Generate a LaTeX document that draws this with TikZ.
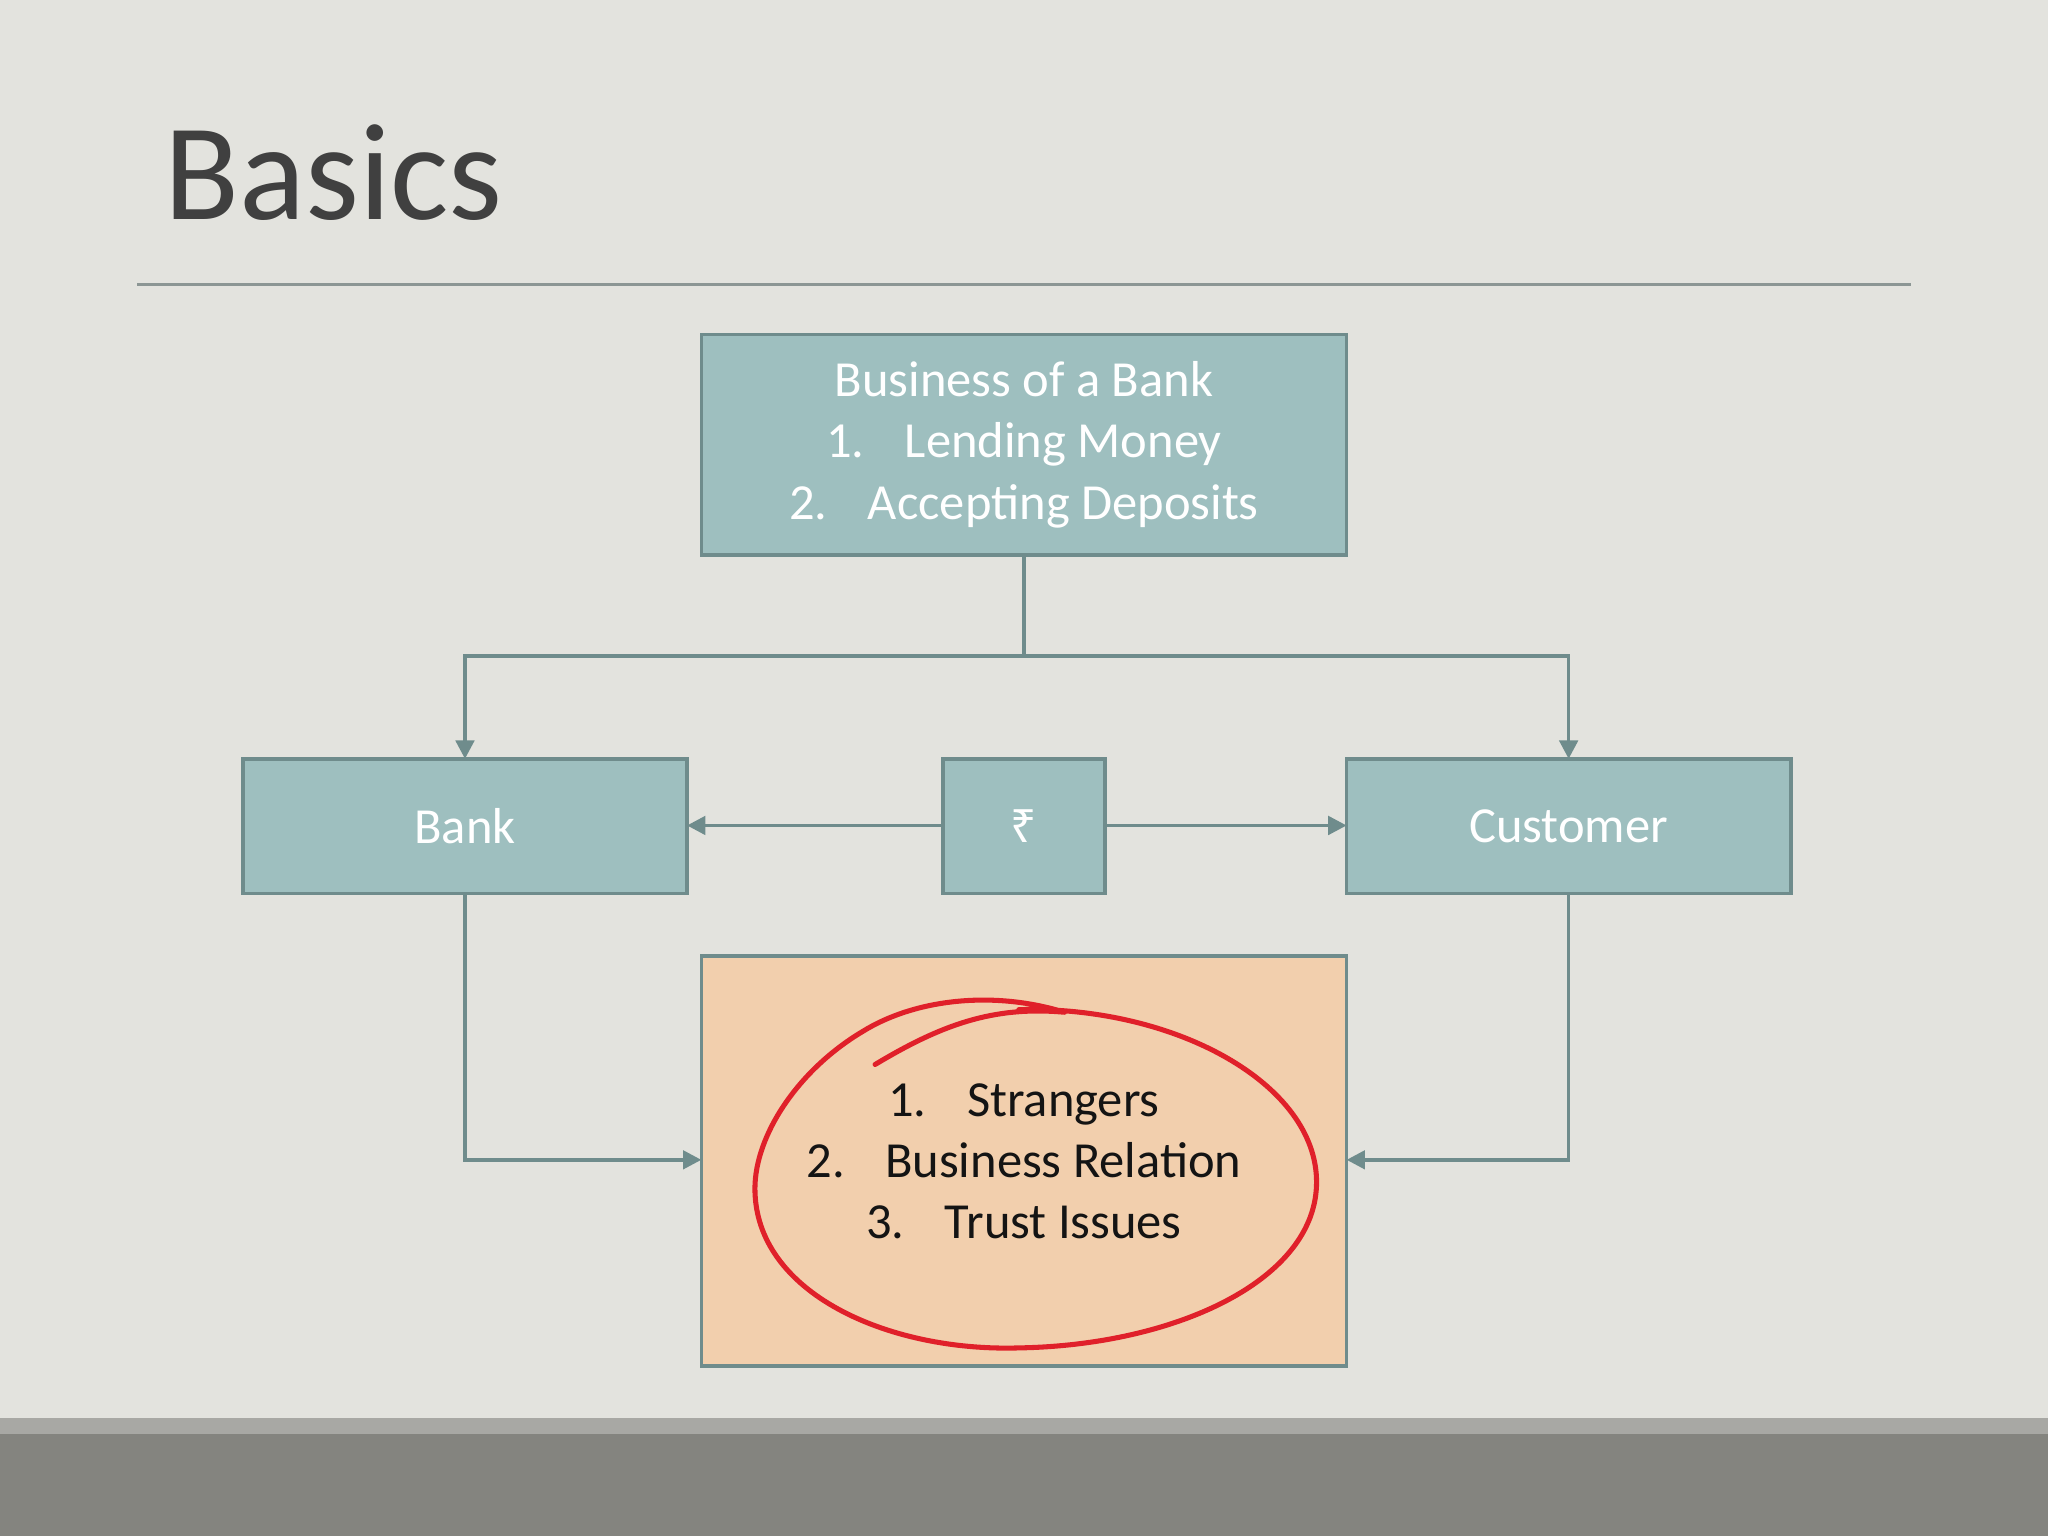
\documentclass[tikz,border=0pt]{standalone}
\usepackage{fontspec}
\setmainfont{Carlito}
\newfontfamily\rupeefont{Noto Sans}
\usetikzlibrary{arrows.meta}
\definecolor{bg}{HTML}{E3E3DE}
\definecolor{boxf}{HTML}{9EBFBF}
\definecolor{boxd}{HTML}{6F8C8C}
\definecolor{peach}{HTML}{F2CFAD}
\definecolor{redl}{HTML}{E0202A}
\definecolor{band1}{HTML}{A8A8A4}
\definecolor{band2}{HTML}{84847F}
\definecolor{rulec}{HTML}{8C9694}
\definecolor{titlec}{HTML}{404040}
\definecolor{listc}{HTML}{141414}
\begin{document}
\begin{tikzpicture}[x=0.01cm,y=-0.01cm,
  bx/.style={draw=boxd,line width=0.8pt,fill=boxf},
  wt/.style={inner sep=0,text=white,font=\fontsize{11}{13.3}\selectfont,align=center},
  conn/.style={draw=boxd,line width=0.8pt,-{Triangle[length=4pt,width=4pt]}},
  plain/.style={draw=boxd,line width=0.8pt}]
\fill[bg] (0,0) rectangle (1568,1176);
\useasboundingbox (0,0) rectangle (1568,1176);
\fill[band1] (0,1086) rectangle (1568,1098);
\fill[band2] (0,1098) rectangle (1568,1176);
\node[anchor=base west,inner sep=0,text=titlec,font=\fontsize{30}{36}\selectfont] (title) at (125,168) {Basics};
\draw[rulec,line width=0.6pt] (105,218) coordinate (l1) -- (1463,218) coordinate (l2);
\path[bx] (537,256) rectangle (1031,425);
\node[wt] (top) at (784,340.5) {Business of a Bank\\1.\hspace{0.8em}Lending Money\\2.\hspace{0.8em}Accepting Deposits};
\path[bx] (186,581) rectangle (526,684);
\node[wt] (bank) at (356,632.5) {Bank};
\path[bx] (722,581) rectangle (846,684);
\node[inner sep=0,text=white,font=\rupeefont\fontsize{10}{12}\selectfont] (rs) at (784,632.5) {₹};
\path[bx] (1031,581) rectangle (1371,684);
\node[wt] (cust) at (1201,632.5) {Customer};
\path[draw=boxd,line width=0.8pt,fill=peach] (537,732) rectangle (1031,1046);
\node[inner sep=0,text=listc,font=\fontsize{11}{13.3}\selectfont,align=center] (list) at (784,889) {1.\hspace{0.8em}Strangers\\2.\hspace{0.8em}Business Relation\\3.\hspace{0.8em}Trust Issues};
\coordinate (tb) at (784,425);
\coordinate (j) at (784,502);
\draw[plain] (tb) -- (j);
\draw[conn] (j) -| (356,581);
\draw[conn] (j) -| (1201,581);
\draw[conn] (722,632) -- (526,632);
\draw[conn] (846,632) -- (1031,632);
\draw[conn] (356,684) |- (537,888);
\draw[conn] (1201,684) |- (1031,888);
\draw[redl,line width=1.1pt,line cap=round,line join=round]
 (670,815) .. controls (720,785) and (760,770) .. (815,775)
 .. controls (760,758) and (700,765) .. (660,790)
 .. controls (610,820) and (578,870) .. (578,910)
 .. controls (578,990) and (680,1035) .. (780,1032)
 .. controls (900,1030) and (1008,980) .. (1008,905)
 .. controls (1008,830) and (900,770) .. (780,773);
\end{tikzpicture}
\end{document}
